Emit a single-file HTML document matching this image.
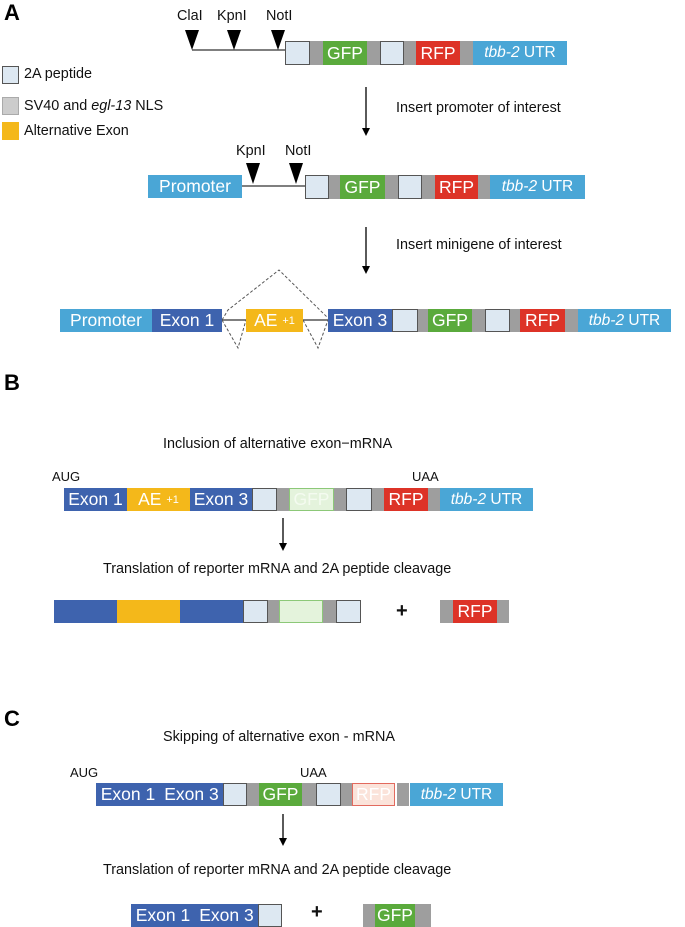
<!DOCTYPE html>
<html><head><meta charset="utf-8"><style>
body{margin:0;width:685px;height:927px;background:#fff;position:relative;overflow:hidden;font-family:"Liberation Sans",Arial,sans-serif;}
.b{position:absolute;box-sizing:border-box;color:#fff;font-size:17.5px;display:flex;align-items:center;justify-content:center;white-space:nowrap;}
.t{position:absolute;color:#111;font-size:14.4px;white-space:nowrap;}
.a2{background:#dde8f2;border:1.5px solid #555;}
.g{background:#9e9e9e;}
.gfp{background:#5aaa3c;}
.rfp{background:#dd3327;}
.utr{background:#4aa6d6;}
.pro{background:#4aa6d6;}
.ex{background:#3e63ae;}
.ae{background:#f4b81a;}
.fg{background:#e4f3dc;border:1px solid #8cc878;color:#f4fbf0;}
.fr{background:#fbe3da;border:1px solid #e26a5e;color:#fff;}
.L{position:absolute;font-weight:bold;font-size:22px;color:#000;}
.u{font-size:15.5px;}
</style></head><body>
<svg width="685" height="927" style="position:absolute;left:0;top:0">
<line x1="192" y1="50" x2="286" y2="50" stroke="#555" stroke-width="1.5"/>
<polygon points="185,30 199,30 192,50" fill="#000"/>
<polygon points="227,30 241,30 234,50" fill="#000"/>
<polygon points="271,30 285,30 278,50" fill="#000"/>
<line x1="242" y1="186" x2="306" y2="186" stroke="#555" stroke-width="1.5"/>
<polygon points="246,163 260,163 253,184" fill="#000"/>
<polygon points="289,163 303,163 296,184" fill="#000"/>
<line x1="366" y1="87" x2="366" y2="130" stroke="#000" stroke-width="1.3"/>
<polygon points="362,128 370,128 366,136" fill="#000"/>
<line x1="366" y1="227" x2="366" y2="268" stroke="#000" stroke-width="1.3"/>
<polygon points="362,266 370,266 366,274" fill="#000"/>
<line x1="222" y1="320" x2="246" y2="320" stroke="#555" stroke-width="1.5"/>
<line x1="303" y1="320" x2="329" y2="320" stroke="#555" stroke-width="1.5"/>
<polyline points="222,320 228,310 279,270 328,318" fill="none" stroke="#555" stroke-width="1" stroke-dasharray="3,2"/>
<polyline points="222,320 238,348 246,320" fill="none" stroke="#555" stroke-width="1" stroke-dasharray="3,2"/>
<polyline points="303,320 318,348 328,320" fill="none" stroke="#555" stroke-width="1" stroke-dasharray="3,2"/>
<line x1="283" y1="518" x2="283" y2="545" stroke="#000" stroke-width="1.3"/>
<polygon points="279,543 287,543 283,551" fill="#000"/>
<line x1="283" y1="814" x2="283" y2="840" stroke="#000" stroke-width="1.3"/>
<polygon points="279,838 287,838 283,846" fill="#000"/>
</svg>

<div class="L" style="left:4px;top:0px">A</div>
<div class="L" style="left:4px;top:370px">B</div>
<div class="L" style="left:4px;top:706px">C</div>

<div class="t" style="left:177px;top:8px">ClaI</div>
<div class="t" style="left:217px;top:8px">KpnI</div>
<div class="t" style="left:266px;top:8px">NotI</div>
<div class="t" style="left:236px;top:143px">KpnI</div>
<div class="t" style="left:285px;top:143px">NotI</div>

<div class="b a2" style="left:2px;top:66px;width:17px;height:18px"></div>
<div class="t" style="left:24px;top:66px">2A peptide</div>
<div class="b" style="left:2px;top:97px;width:17px;height:18px;background:#ccc;border:1px solid #aaa"></div>
<div class="t" style="left:24px;top:98px">SV40 and <i>egl-13</i> NLS</div>
<div class="b ae" style="left:2px;top:122px;width:17px;height:18px"></div>
<div class="t" style="left:24px;top:123px">Alternative Exon</div>

<div class="t" style="left:396px;top:100px">Insert promoter of interest</div>
<div class="t" style="left:396px;top:237px">Insert minigene of interest</div>

<!-- row1 -->
<div class="b a2" style="left:285px;top:41px;width:25px;height:24px"></div>
<div class="b g" style="left:310px;top:41px;width:13px;height:24px"></div>
<div class="b gfp" style="left:323px;top:41px;width:44px;height:24px">GFP</div>
<div class="b g" style="left:367px;top:41px;width:13px;height:24px"></div>
<div class="b a2" style="left:380px;top:41px;width:24px;height:24px"></div>
<div class="b g" style="left:404px;top:41px;width:12px;height:24px"></div>
<div class="b rfp" style="left:416px;top:41px;width:44px;height:24px">RFP</div>
<div class="b g" style="left:460px;top:41px;width:13px;height:24px"></div>
<div class="b utr u" style="left:473px;top:41px;width:94px;height:24px"><i>tbb-2</i>&nbsp;UTR</div>

<!-- row2 -->
<div class="b pro" style="left:148px;top:175px;width:94px;height:23px">Promoter</div>
<div class="b a2" style="left:305px;top:175px;width:24px;height:24px"></div>
<div class="b g" style="left:329px;top:175px;width:11px;height:24px"></div>
<div class="b gfp" style="left:340px;top:175px;width:45px;height:24px">GFP</div>
<div class="b g" style="left:385px;top:175px;width:13px;height:24px"></div>
<div class="b a2" style="left:398px;top:175px;width:24px;height:24px"></div>
<div class="b g" style="left:422px;top:175px;width:13px;height:24px"></div>
<div class="b rfp" style="left:435px;top:175px;width:43px;height:24px">RFP</div>
<div class="b g" style="left:478px;top:175px;width:12px;height:24px"></div>
<div class="b utr u" style="left:490px;top:175px;width:95px;height:24px"><i>tbb-2</i>&nbsp;UTR</div>

<!-- row3 -->
<div class="b pro" style="left:60px;top:309px;width:92px;height:23px">Promoter</div>
<div class="b ex" style="left:152px;top:309px;width:70px;height:23px">Exon 1</div>
<div class="b ae" style="left:246px;top:309px;width:57px;height:23px">AE&nbsp;<span style="font-size:11px">+1</span></div>
<div class="b ex" style="left:328px;top:309px;width:64px;height:23px">Exon 3</div>
<div class="b a2" style="left:392px;top:309px;width:26px;height:23px"></div>
<div class="b g" style="left:418px;top:309px;width:10px;height:23px"></div>
<div class="b gfp" style="left:428px;top:309px;width:44px;height:23px">GFP</div>
<div class="b g" style="left:472px;top:309px;width:13px;height:23px"></div>
<div class="b a2" style="left:485px;top:309px;width:25px;height:23px"></div>
<div class="b g" style="left:510px;top:309px;width:10px;height:23px"></div>
<div class="b rfp" style="left:520px;top:309px;width:45px;height:23px">RFP</div>
<div class="b g" style="left:565px;top:309px;width:13px;height:23px"></div>
<div class="b utr u" style="left:578px;top:309px;width:93px;height:23px"><i>tbb-2</i>&nbsp;UTR</div>

<!-- B -->
<div class="t" style="left:163px;top:436px">Inclusion of alternative exon−mRNA</div>
<div class="t" style="left:52px;top:469px;font-size:13px">AUG</div>
<div class="t" style="left:412px;top:469px;font-size:13px">UAA</div>
<div class="b ex" style="left:64px;top:488px;width:63px;height:23px">Exon 1</div>
<div class="b ae" style="left:127px;top:488px;width:63px;height:23px">AE&nbsp;<span style="font-size:11px">+1</span></div>
<div class="b ex" style="left:190px;top:488px;width:62px;height:23px">Exon 3</div>
<div class="b a2" style="left:252px;top:488px;width:25px;height:23px"></div>
<div class="b g" style="left:277px;top:488px;width:12px;height:23px"></div>
<div class="b fg" style="left:289px;top:488px;width:45px;height:23px">GFP</div>
<div class="b g" style="left:334px;top:488px;width:12px;height:23px"></div>
<div class="b a2" style="left:346px;top:488px;width:26px;height:23px"></div>
<div class="b g" style="left:372px;top:488px;width:12px;height:23px"></div>
<div class="b rfp" style="left:384px;top:488px;width:44px;height:23px">RFP</div>
<div class="b g" style="left:428px;top:488px;width:12px;height:23px"></div>
<div class="b utr u" style="left:440px;top:488px;width:93px;height:23px"><i>tbb-2</i>&nbsp;UTR</div>

<div class="t" style="left:103px;top:561px">Translation of reporter mRNA and 2A peptide cleavage</div>
<div class="b ex" style="left:54px;top:600px;width:63px;height:23px"></div>
<div class="b ae" style="left:117px;top:600px;width:63px;height:23px"></div>
<div class="b ex" style="left:180px;top:600px;width:63px;height:23px"></div>
<div class="b a2" style="left:243px;top:600px;width:25px;height:23px"></div>
<div class="b g" style="left:268px;top:600px;width:11px;height:23px"></div>
<div class="b fg" style="left:279px;top:600px;width:44px;height:23px"></div>
<div class="b g" style="left:323px;top:600px;width:13px;height:23px"></div>
<div class="b a2" style="left:336px;top:600px;width:25px;height:23px"></div>
<div class="t" style="left:396px;top:600px;font-size:20px;font-weight:bold">+</div>
<div class="b g" style="left:440px;top:600px;width:13px;height:23px"></div>
<div class="b rfp" style="left:453px;top:600px;width:44px;height:23px">RFP</div>
<div class="b g" style="left:497px;top:600px;width:12px;height:23px"></div>

<!-- C -->
<div class="t" style="left:163px;top:729px">Skipping of alternative exon - mRNA</div>
<div class="t" style="left:70px;top:765px;font-size:13px">AUG</div>
<div class="t" style="left:300px;top:765px;font-size:13px">UAA</div>
<div class="b ex" style="left:96px;top:783px;width:64px;height:23px">Exon 1</div>
<div class="b ex" style="left:160px;top:783px;width:63px;height:23px">Exon 3</div>
<div class="b a2" style="left:223px;top:783px;width:24px;height:23px"></div>
<div class="b g" style="left:247px;top:783px;width:12px;height:23px"></div>
<div class="b gfp" style="left:259px;top:783px;width:43px;height:23px">GFP</div>
<div class="b g" style="left:302px;top:783px;width:14px;height:23px"></div>
<div class="b a2" style="left:316px;top:783px;width:25px;height:23px"></div>
<div class="b g" style="left:341px;top:783px;width:11px;height:23px"></div>
<div class="b fr" style="left:352px;top:783px;width:43px;height:23px">RFP</div>
<div class="b g" style="left:397px;top:783px;width:12px;height:23px"></div>
<div class="b utr u" style="left:410px;top:783px;width:93px;height:23px"><i>tbb-2</i>&nbsp;UTR</div>

<div class="t" style="left:103px;top:862px">Translation of reporter mRNA and 2A peptide cleavage</div>
<div class="b ex" style="left:131px;top:904px;width:64px;height:23px">Exon 1</div>
<div class="b ex" style="left:195px;top:904px;width:63px;height:23px">Exon 3</div>
<div class="b a2" style="left:258px;top:904px;width:24px;height:23px"></div>
<div class="t" style="left:311px;top:901px;font-size:20px;font-weight:bold">+</div>
<div class="b g" style="left:363px;top:904px;width:12px;height:23px"></div>
<div class="b gfp" style="left:375px;top:904px;width:40px;height:23px">GFP</div>
<div class="b g" style="left:415px;top:904px;width:16px;height:23px"></div>
</body></html>
